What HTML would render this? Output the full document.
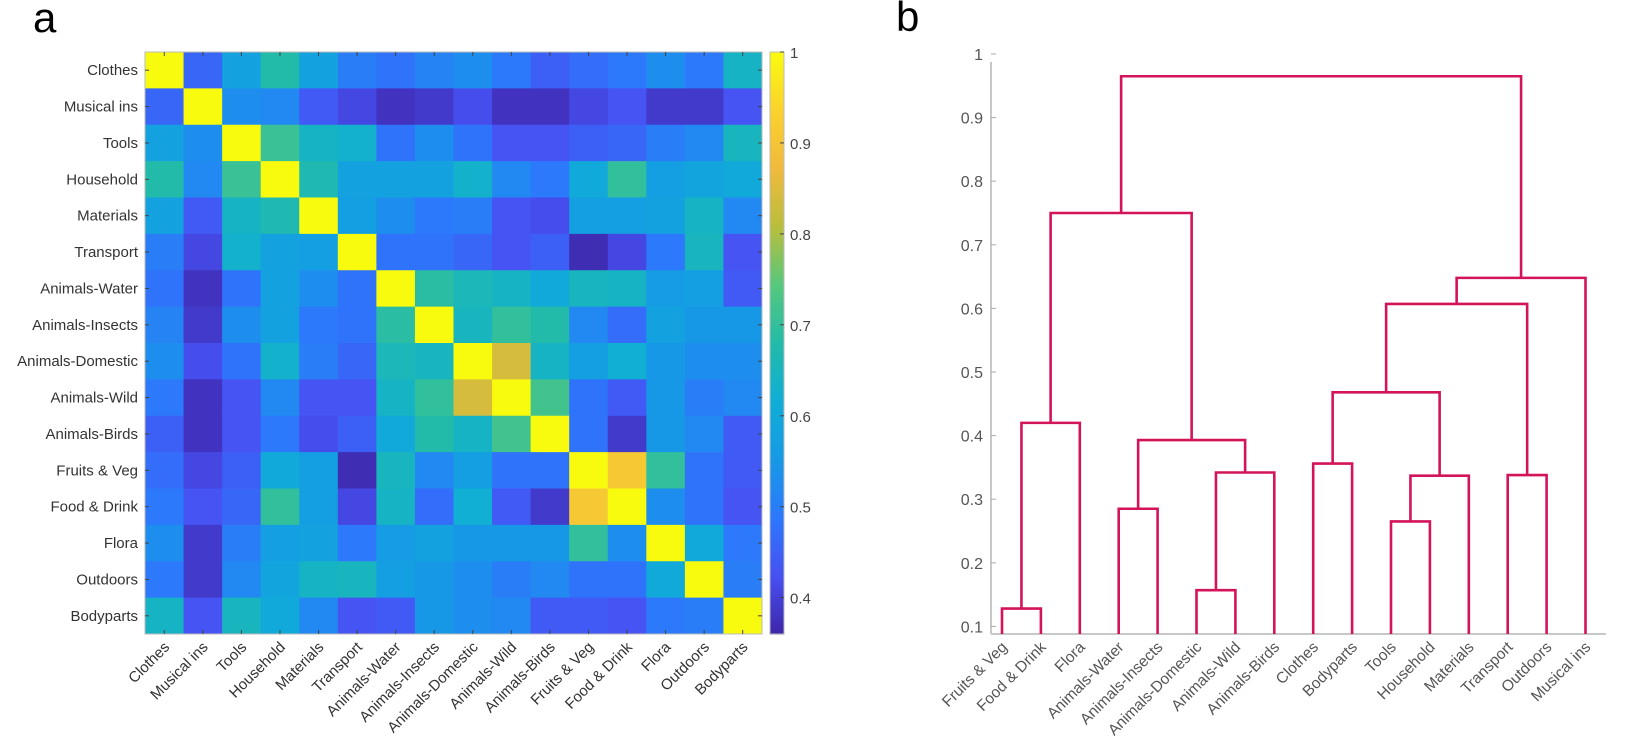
<!DOCTYPE html>
<html><head><meta charset="utf-8">
<style>
html,body{margin:0;padding:0;background:#fff;}
svg{display:block;font-family:"Liberation Sans",sans-serif;}
</style></head>
<body>
<svg id="fig" width="1640" height="746" viewBox="0 0 1640 746" xmlns="http://www.w3.org/2000/svg">
<text x="33" y="32" font-size="42" fill="#000">a</text>
<text x="896" y="31" font-size="42" fill="#000">b</text>
<g id="heat"></g>
<g id="cbar"></g>
<g id="dendro"></g>
</svg>
<script>
const categories = ["Clothes","Musical ins","Tools","Household","Materials","Transport","Animals-Water","Animals-Insects","Animals-Domestic","Animals-Wild","Animals-Birds","Fruits & Veg","Food & Drink","Flora","Outdoors","Bodyparts"];
const matrix = [
[1,.46,.58,.68,.58,.5,.48,.51,.53,.49,.45,.47,.49,.53,.49,.64],
[.46,1,.53,.52,.44,.41,.38,.39,.42,.38,.38,.41,.43,.39,.39,.43],
[.58,.53,1,.71,.64,.63,.48,.53,.48,.43,.43,.45,.46,.5,.52,.65],
[.68,.52,.71,1,.67,.58,.58,.58,.63,.52,.49,.6,.7,.57,.59,.6],
[.58,.44,.64,.67,1,.57,.53,.49,.5,.43,.42,.57,.57,.58,.64,.52],
[.5,.41,.63,.58,.57,1,.48,.48,.46,.43,.45,.37,.41,.49,.65,.43],
[.48,.38,.48,.58,.53,.48,1,.69,.66,.64,.6,.65,.64,.56,.57,.44],
[.51,.39,.53,.58,.49,.48,.69,1,.65,.7,.68,.52,.47,.58,.55,.55],
[.53,.42,.48,.63,.5,.46,.66,.65,1,.84,.64,.57,.62,.55,.53,.53],
[.49,.38,.43,.52,.43,.43,.64,.7,.84,1,.72,.48,.44,.55,.5,.52],
[.45,.38,.43,.49,.42,.45,.6,.68,.64,.72,1,.48,.39,.55,.52,.44],
[.47,.41,.45,.6,.57,.37,.65,.52,.57,.48,.48,1,.91,.7,.48,.44],
[.49,.43,.46,.7,.57,.41,.64,.47,.62,.44,.39,.91,1,.53,.48,.43],
[.53,.39,.5,.57,.58,.49,.56,.58,.55,.55,.55,.7,.53,1,.6,.49],
[.49,.39,.52,.59,.64,.65,.57,.55,.53,.5,.52,.48,.48,.6,1,.5],
[.64,.43,.65,.6,.52,.43,.44,.55,.53,.52,.44,.44,.43,.49,.5,1]];
const cbarTicks = [0.4,0.5,0.6,0.7,0.8,0.9,1];
const cbarTickLabels = ["0.4","0.5","0.6","0.7","0.8","0.9","1"];

const leaves = ["Fruits & Veg","Food & Drink","Flora","Animals-Water","Animals-Insects","Animals-Domestic","Animals-Wild","Animals-Birds","Clothes","Bodyparts","Tools","Household","Materials","Transport","Outdoors","Musical ins"];
const mergeLeft  = [0,16,3,5,19,18,17,10,23,8,25,13,26,28,22];
const mergeRight = [1,2,4,6,7,20,21,11,12,9,24,14,27,15,29];
const mergeHeight= [0.128,0.42,0.285,0.157,0.342,0.393,0.75,0.265,0.337,0.356,0.468,0.338,0.607,0.648,0.965];
const yTicks = [0.1,0.2,0.3,0.4,0.5,0.6,0.7,0.8,0.9,1];
const yTickLabels = ["0.1","0.2","0.3","0.4","0.5","0.6","0.7","0.8","0.9","1"];

const NS="http://www.w3.org/2000/svg";
function mk(tag,attrs,parent){const e=document.createElementNS(NS,tag);for(const k in attrs)e.setAttribute(k,attrs[k]);parent.appendChild(e);return e;}

const stops=[[62,38,168],[71,80,242],[45,120,252],[22,153,230],[15,174,214],[34,187,170],[85,200,125],[185,190,60],[240,186,61],[250,210,45],[249,251,14]];
function parula(t){t=Math.max(0,Math.min(1,t));const p=t*10,i=Math.min(9,Math.floor(p)),f=p-i;const a=stops[i],b=stops[i+1];return `rgb(${a.map((v,k)=>Math.round(v+(b[k]-v)*f)).join(',')})`;}
const VMIN=0.36,VMAX=1;
const color=v=>parula((v-VMIN)/(VMAX-VMIN));

const HX0=145,HX1=762,HY0=52,HY1=634,n=categories.length;
const cw=(HX1-HX0)/n,ch=(HY1-HY0)/n;
const xCell=i=>HX0+i*cw, yCell=i=>HY0+i*ch;
const heat=document.getElementById('heat');
for(let r=0;r<n;r++)for(let c=0;c<n;c++){
  const el=mk('rect',{x:xCell(c),y:yCell(r),width:cw+0.5,height:ch+0.5,fill:color(matrix[r][c])},heat);
  
  
}
const frame=mk('rect',{x:HX0,y:HY0,width:HX1-HX0,height:HY1-HY0,fill:'none',stroke:'#bbb','stroke-width':1},heat);


for(let i=0;i<n;i++){
  const cx=xCell(i)+cw/2, cy=yCell(i)+ch/2;
  mk('line',{x1:cx,y1:HY1,x2:cx,y2:HY1-4,stroke:'#444','stroke-width':1},heat);
  mk('line',{x1:cx,y1:HY0,x2:cx,y2:HY0+4,stroke:'#444','stroke-width':1},heat);
  mk('line',{x1:HX0,y1:cy,x2:HX0+4,y2:cy,stroke:'#444','stroke-width':1},heat);
  mk('line',{x1:HX1,y1:cy,x2:HX1-4,y2:cy,stroke:'#444','stroke-width':1},heat);
  const yl=mk('text',{x:HX0-7,y:cy+5,'font-size':15,fill:'#333','text-anchor':'end'},heat);
  yl.textContent=categories[i];
  
  
  const xl=mk('text',{x:0,y:0,'font-size':15,fill:'#333','text-anchor':'end',transform:`translate(${cx+6},${HY1+14}) rotate(-45)`},heat);
  xl.textContent=categories[i];
  
  
}
const cb=document.getElementById('cbar');
const CX0=770,CX1=784;
const yCb=v=>HY1-(v-VMIN)/(VMAX-VMIN)*(HY1-HY0);
for(let k=0;k<200;k++){
  const v0=VMIN+(VMAX-VMIN)*k/200,v1=VMIN+(VMAX-VMIN)*(k+1)/200;
  mk('rect',{x:CX0,y:yCb(v1),width:CX1-CX0,height:yCb(v0)-yCb(v1)+0.6,fill:color((v0+v1)/2)},cb);
}
mk('rect',{x:CX0,y:HY0,width:CX1-CX0,height:HY1-HY0,fill:'none',stroke:'#bbb'},cb);
cbarTicks.forEach((v,i)=>{
  const y=yCb(v);
  mk('line',{x1:CX1,y1:y,x2:CX1-4,y2:y,stroke:'#444'},cb);
  const t=mk('text',{x:CX1+6,y:y+6,'font-size':15,fill:'#444'},cb);
  t.textContent=cbarTickLabels[i];
  
  
});

const dg=document.getElementById('dendro');
const AX=991,AXR=1606,AY=634;
const yD=v=>54+(1-v)*636;
const xLeaf=i=>1002+i*38.9;
mk('line',{x1:AX,y1:62,x2:AX,y2:AY,stroke:'#c8c8c8','stroke-width':2},dg);
mk('line',{x1:AX,y1:AY,x2:AXR,y2:AY,stroke:'#c8c8c8','stroke-width':2},dg);
yTicks.forEach((v,i)=>{
  const y=yD(v);
  mk('line',{x1:AX,y1:y,x2:AX+5,y2:y,stroke:'#aaa'},dg);
  const t=mk('text',{x:AX-8,y:y+6,'font-size':16,fill:'#555','text-anchor':'end'},dg);
  t.textContent=yTickLabels[i];
  
  
});
const nodeX=[],nodeY=[];
leaves.forEach((l,i)=>{nodeX[i]=xLeaf(i);nodeY[i]=AY;
  const t=mk('text',{x:0,y:0,'font-size':15.5,fill:'#555','text-anchor':'end',transform:`translate(${xLeaf(i)+6},${AY+14}) rotate(-45)`},dg);
  t.textContent=l;
  
  
});
mergeHeight.forEach((h,m)=>{
  const a=mergeLeft[m],b=mergeRight[m],y=yD(h),id=leaves.length+m;
  const p=mk('path',{d:`M${nodeX[a]},${nodeY[a]}V${y}H${nodeX[b]}V${nodeY[b]}`,fill:'none',stroke:'#d4145a','stroke-width':2.6},dg);
  
  
  nodeX[id]=(nodeX[a]+nodeX[b])/2;nodeY[id]=y;
});
</script>
</body></html>
